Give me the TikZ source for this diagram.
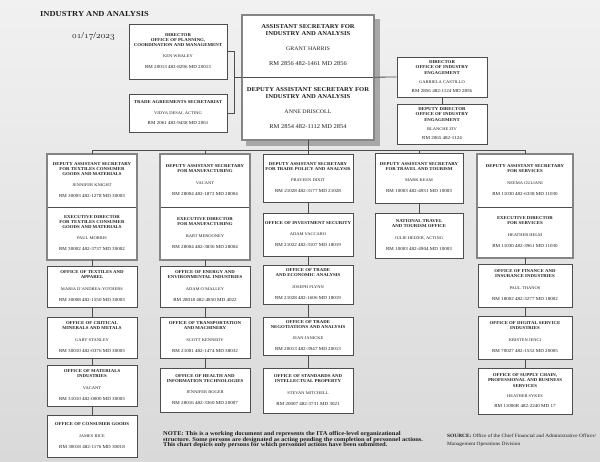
\documentclass[tikz,border=0pt]{standalone}
\usepackage{fontspec}
\setmainfont{Liberation Serif}[FakeStretch=1.1]
\usetikzlibrary{positioning, fit, backgrounds}
\definecolor{boxline}{HTML}{4D4D4D}
\definecolor{frameline}{HTML}{858585}
\definecolor{bgtop}{HTML}{F1F1F1}
\definecolor{bgbot}{HTML}{D9D9D9}
\definecolor{shadowgray}{HTML}{A8A8A8}
\definecolor{inkgray}{HTML}{1E1E1E}
% unit box text: title, name, room and phone
\newcommand{\unitlines}[4][6pt]{\begin{tabular}{@{}c@{}}{\bfseries\begin{tabular}[b]{@{}c@{}}#2\end{tabular}}\\[#1]{\fontsize{4.1}{5.2}\selectfont #3}\\[#1]{\fontsize{4.6}{5.2}\selectfont #4}\end{tabular}}
\newcommand{\toplines}[3]{\begin{tabular}{@{}c@{}}{\bfseries\begin{tabular}[b]{@{}c@{}}#1\end{tabular}}\\[8pt]{\fontsize{5.4}{7}\selectfont #2}\\[8pt]{\fontsize{5.9}{7}\selectfont #3}\end{tabular}}
\newcommand{\osnum}[1]{{\usefont{OML}{cmm}{m}{it}#1}}

\begin{document}
\begin{tikzpicture}[x=1pt, y=-1pt,
  orgbox/.style={draw=boxline, line width=0.7pt, fill=white, inner sep=0pt,
    text=inkgray, font=\fontsize{4.4}{5.2}\selectfont},
  orghalf/.style={fill=white, inner sep=0pt, text=inkgray, font=\fontsize{4.4}{5.2}\selectfont},
  topbox/.style={orghalf, font=\fontsize{6}{7}\selectfont},
  orgframe/.style={draw=frameline, line width=1.8pt, inner sep=0pt},
  orglink/.style={draw=boxline, line width=0.8pt}]

\useasboundingbox (0,0) rectangle (600,461);

% Heading
\node[anchor=west, inner sep=0pt, text=inkgray, font=\fontsize{7.7}{9}\selectfont\bfseries] (title) at (40,14) {INDUSTRY AND ANALYSIS};
\node[anchor=west, inner sep=0pt, text=inkgray, font=\fontsize{9}{10}\selectfont] (date) at (72,36) {\osnum{01}/\osnum{17}/\osnum{2023}};

% Front office
\node[orgbox, minimum width=98pt, minimum height=55pt] (plan) at (178,51.5)
  {\unitlines[6pt]{DIRECTOR\\OFFICE OF PLANNING,\\COORDINATION AND MANAGEMENT}{KEN WHALEY}{RM 20013 482-8296 MD 20013}};
\node[orgbox, minimum width=98pt, minimum height=38pt] (tas) at (178,113)
  {\unitlines[5pt]{TRADE AGREEMENTS SECRETARIAT}{VIDYA DESAI, ACTING}{RM 2061 482-9438 MD 2061}};
\node[topbox, minimum width=132pt, minimum height=62pt] (asec) at (308,46)
  {\toplines{ASSISTANT SECRETARY FOR\\INDUSTRY AND ANALYSIS}{GRANT HARRIS}{RM 2856 482-1461 MD 2856}};
\node[topbox, minimum width=132pt, minimum height=63pt] (dasia) at (308,108.5)
  {\toplines{DEPUTY ASSISTANT SECRETARY FOR\\INDUSTRY AND ANALYSIS}{ANNE DRISCOLL}{RM 2854 482-1112 MD 2854}};
\node[orgbox, minimum width=90pt, minimum height=40pt] (oie) at (442,77)
  {\unitlines[4pt]{DIRECTOR\\OFFICE OF INDUSTRY\\ENGAGEMENT}{GABRIELA CASTILLO}{RM 2856 482-1124 MD 2856}};
\node[orgbox, minimum width=90pt, minimum height=40pt] (dioe) at (442,124)
  {\unitlines[4pt]{DEPUTY DIRECTOR\\OFFICE OF INDUSTRY\\ENGAGEMENT}{BLANCHE ZIV}{RM 2065 482-1124}};

% Textiles, consumer goods and materials
\node[orghalf, minimum width=90pt, minimum height=53pt] (dastcg) at (92,180.5)
  {\unitlines{DEPUTY ASSISTANT SECRETARY\\FOR TEXTILES CONSUMER\\GOODS AND MATERIALS}{JENNIFER KNIGHT}{RM 30003 482-1278 MD 30003}};
\node[orghalf, minimum width=90pt, minimum height=53pt] (edtcg) at (92,233.5)
  {\unitlines{EXECUTIVE DIRECTOR\\FOR TEXTILES CONSUMER\\GOODS AND MATERIALS}{PAUL MORRIS}{RM 30002 482-3737 MD 30002}};
\node[orgbox, minimum width=90pt, minimum height=41pt] (ota) at (92,286.5)
  {\unitlines{OFFICE OF TEXTILES AND\\APPAREL}{MARIA D'ANDREA-YOTHERS}{RM 30008 482-1550 MD 30003}};
\node[orgbox, minimum width=90pt, minimum height=41pt] (ocmm) at (92,337.5)
  {\unitlines{OFFICE OF CRITICAL\\MINERALS AND METALS}{GARY STANLEY}{RM 30010 482-0376 MD 30003}};
\node[orgbox, minimum width=90pt, minimum height=41pt] (omi) at (92,385.5)
  {\unitlines{OFFICE OF MATERIALS\\INDUSTRIES}{VACANT}{RM 31010 482-0000 MD 30003}};
\node[orgbox, minimum width=90pt, minimum height=42pt] (ocg) at (92,436)
  {\unitlines{OFFICE OF CONSUMER GOODS}{JAMES RICE}{RM 30018 482-1176 MD 30018}};

% Manufacturing
\node[orghalf, minimum width=90pt, minimum height=53pt] (dasmfg) at (205,180.5)
  {\unitlines{DEPUTY ASSISTANT SECRETARY\\FOR MANUFACTURING}{VACANT}{RM 28004 482-1872 MD 28004}};
\node[orghalf, minimum width=90pt, minimum height=53pt] (edmfg) at (205,233.5)
  {\unitlines{EXECUTIVE DIRECTOR\\FOR MANUFACTURING}{BART MEROONEY}{RM 28004 482-3836 MD 28004}};
\node[orgbox, minimum width=90pt, minimum height=41pt] (oeei) at (205,286.5)
  {\unitlines{OFFICE OF ENERGY AND\\ENVIRONMENTAL INDUSTRIES}{ADAM O'MALLEY}{RM 28018 482-4850 MD 4022}};
\node[orgbox, minimum width=90pt, minimum height=41pt] (otm) at (205,337.5)
  {\unitlines{OFFICE OF TRANSPORTATION\\AND MACHINERY}{SCOTT KENNEDY}{RM 21001 482-1474 MD 38032}};
\node[orgbox, minimum width=90pt, minimum height=44pt] (ohit) at (205,390)
  {\unitlines{OFFICE OF HEALTH AND\\INFORMATION TECHNOLOGIES}{JENNIFER BOGER}{RM 28016 482-3360 MD 20007}};

% Trade policy and analysis
\node[orgbox, minimum width=90pt, minimum height=48pt] (dastpa) at (308,178)
  {\unitlines{DEPUTY ASSISTANT SECRETARY\\FOR TRADE POLICY AND ANALYSIS}{PRAVEEN DIXIT}{RM 21028 482-3177 MD 21028}};
\node[orgbox, minimum width=90pt, minimum height=43pt] (ois) at (308,234.5)
  {\unitlines{OFFICE OF INVESTMENT SECURITY}{ADAM VACCARO}{RM 21022 482-3107 MD 18019}};
\node[orgbox, minimum width=90pt, minimum height=39pt] (otea) at (308,284.5)
  {\unitlines{OFFICE OF TRADE\\AND ECONOMIC ANALYSIS}{JOSEPH FLYNN}{RM 21028 482-1606 MD 18019}};
\node[orgbox, minimum width=90pt, minimum height=38pt] (otna) at (308,336)
  {\unitlines{OFFICE OF TRADE\\NEGOTIATIONS AND ANALYSIS}{JEAN JANICKE}{RM 20013 482-3947 MD 20013}};
\node[orgbox, minimum width=90pt, minimum height=45pt] (osip) at (308,390.5)
  {\unitlines{OFFICE OF STANDARDS AND\\INTELLECTUAL PROPERTY}{STEVAN MITCHELL}{RM 20007 482-3731 MD 3021}};

% Travel and tourism
\node[orgbox, minimum width=88pt, minimum height=50pt] (dastt) at (419,178)
  {\unitlines{DEPUTY ASSISTANT SECRETARY\\FOR TRAVEL AND TOURISM}{MARK KEAM}{RM 10003 482-4931 MD 10003}};
\node[orgbox, minimum width=88pt, minimum height=45pt] (ntto) at (419,235.5)
  {\unitlines{NATIONAL TRAVEL\\AND TOURISM OFFICE}{JULIE HEIZER, ACTING}{RM 10003 482-4904 MD 10003}};

% Services
\node[orghalf, minimum width=96pt, minimum height=53pt] (dassvc) at (525,180.5)
  {\unitlines{DEPUTY ASSISTANT SECRETARY\\FOR SERVICES}{NEEMA GULIANI}{RM 11030 482-6338 MD 11030}};
\node[orghalf, minimum width=96pt, minimum height=51pt] (edsvc) at (525,232.5)
  {\unitlines{EXECUTIVE DIRECTOR\\FOR SERVICES}{HEATHER HELM}{RM 11030 482-3961 MD 11030}};
\node[orgbox, minimum width=94pt, minimum height=43pt] (ofii) at (525,285.5)
  {\unitlines{OFFICE OF FINANCE AND\\INSURANCE INDUSTRIES}{PAUL THANOS}{RM 18002 482-3277 MD 18002}};
\node[orgbox, minimum width=94pt, minimum height=43pt] (odsi) at (525,337.5)
  {\unitlines{OFFICE OF DIGITAL SERVICE\\INDUSTRIES}{KRISTEN JENCI}{RM 70027 482-1532 MD 20005}};
\node[orgbox, minimum width=94pt, minimum height=46pt] (oscp) at (525,391)
  {\unitlines[5pt]{OFFICE OF SUPPLY CHAIN,\\PROFESSIONAL AND BUSINESS\\SERVICES}{HEATHER SYKES}{RM 11006R 482-2240 MD 17}};

% Double boxes
\foreach \n in {asec,dastcg,dasmfg,dassvc}
  \draw[orglink] (\n.south west) -- (\n.south east);
\node[orgframe, fit=(asec)(dasia)] (fmain) {};
\node[orgframe, fit=(dastcg)(edtcg)] (ftcg) {};
\node[orgframe, fit=(dasmfg)(edmfg)] (fmfg) {};
\node[orgframe, fit=(dassvc)(edsvc)] (fsvc) {};

% Connectors
\draw[orglink] (asec.south west) -- ++(-7,0) coordinate (brk);
\draw[orglink] (plan.east) -| (brk) |- (tas.east);
\draw[orglink] (asec.south east) -- (oie.west);
\draw[orglink] (oie) -- (dioe);
\coordinate (bus) at (308,150);
\draw[orglink] (dasia.south) -- (bus);
\draw[orglink] (bus -| dastcg.north) -- (bus -| dassvc.north);
\foreach \n in {dastcg,dasmfg,dastpa,dastt,dassvc}
  \draw[orglink] (bus -| \n.north) -- (\n.north);
\foreach \a/\b in {edtcg/ota, ota/ocmm, ocmm/omi, omi/ocg, edmfg/oeei, oeei/otm, otm/ohit,
    dastpa/ois, ois/otea, otea/otna, otna/osip, dastt/ntto, edsvc/ofii, ofii/odsi, odsi/oscp}
  \draw[orglink] (\a.south) -- (\b.north);

% Footnotes
\node[anchor=north west, align=left, inner sep=0pt, text=inkgray, font=\fontsize{5.9}{5.8}\selectfont\bfseries] (note) at (163,431)
  {NOTE: This is a working document and represents the ITA office-level organizational\\
   structure. Some persons are designated as acting pending the completion of personnel actions.\\
   This chart depicts only persons for which personnel actions have been submitted.};
\node[anchor=north west, align=left, inner sep=0pt, text=inkgray, font=\fontsize{4.9}{7.5}\selectfont] (source) at (447,434)
  {\textbf{SOURCE:} Office of the Chief Financial and Administrative Officer/\\Management Operations Division};

% Background and shadow
\begin{scope}[on background layer]
  \shade[top color=bgtop, bottom color=bgbot] (0,0) rectangle (600,461);
  \fill[shadowgray] ([shift={(5,5)}]fmain.north west) rectangle ([shift={(5,5)}]fmain.south east);
\end{scope}

\end{tikzpicture}
\end{document}
